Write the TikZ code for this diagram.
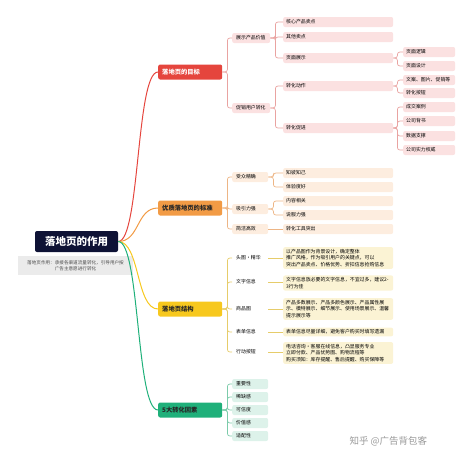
\documentclass[tikz,border=0pt]{standalone}
\usepackage{fontspec}
\setmainfont{Noto Sans CJK SC}
\usetikzlibrary{positioning}
\definecolor{rootbg}{HTML}{0E1235}
\definecolor{notebg}{HTML}{EBEBEB}
\definecolor{cred}{HTML}{E5453D}
\definecolor{credfill}{HTML}{FBE1E1}
\definecolor{credline}{HTML}{E9A3A1}
\definecolor{corange}{HTML}{F29B45}
\definecolor{corangefill}{HTML}{FDEDDF}
\definecolor{corangeline}{HTML}{EDB585}
\definecolor{cyellow}{HTML}{F7C81E}
\definecolor{cyellowfill}{HTML}{FBF3D4}
\definecolor{cyellowline}{HTML}{E6CC6A}
\definecolor{cgreen}{HTML}{1FB07A}
\definecolor{cgreenfill}{HTML}{DDF2EA}
\definecolor{cgreenline}{HTML}{7CCBAA}
\newcommand\smallcn{\fontsize{4.9}{6.6}\selectfont}

\begin{document}
\begin{tikzpicture}[x=1pt,y=-1pt,
  rootbox/.style={fill=rootbg,text=white,rounded corners=2pt,minimum width=83,minimum height=21,font=\fontsize{10.5}{12}\selectfont\bfseries},
  notebox/.style={fill=notebg,text=black!70,minimum width=115,minimum height=19,align=center,font=\fontsize{4.6}{6}\selectfont},
  branch/.style={anchor=west,rounded corners=2pt,minimum width=64,minimum height=15,text width=56,inner xsep=4pt,font=\fontsize{6.3}{7}\selectfont\bfseries},
  ltwo/.style={anchor=west,rounded corners=2pt,minimum height=10,text width=28,inner xsep=4pt,inner ysep=1pt,font=\smallcn},
  lthree/.style={anchor=west,rounded corners=2pt,minimum height=10,text width=104,inner xsep=3pt,inner ysep=1pt,align=left,font=\smallcn},
  lfour/.style={anchor=west,rounded corners=2pt,minimum height=10,text width=46,inner xsep=3pt,inner ysep=1pt,font=\smallcn},
  ldesc/.style={anchor=west,rounded corners=2pt,text width=104,inner xsep=3pt,inner ysep=2pt,align=left,font=\smallcn},
  brk/.style={line width=0.7pt,rounded corners=2.5pt},
  stem/.style={line width=1pt}]

\useasboundingbox (0,0) rectangle (474,461);

% root
\node[rootbox] (root) at (76.5,241.5) {落地页的作用};
\node[notebox] (note) at (75.5,265.5) {落地页作用：承接各渠道流量转化，引导用户按\\广告主意愿进行转化};

% branches
\node[branch,fill=cred,text=white] (goal) at (158,72) {落地页的目标};
\node[branch,fill=corange,text=black!85] (std) at (158,208) {优质落地页的标准};
\node[branch,fill=cyellow,text=black!85] (struct) at (158,309) {落地页结构};
\node[branch,fill=cgreen,text=black!85] (five) at (158,410) {5大转化因素};

\draw[stem,cred] (root.east) .. controls (140,241.5) and (136,72) .. (goal.west);
\draw[stem,corange] (root.east) .. controls (140,241.5) and (136,208) .. (std.west);
\draw[stem,cyellow] (root.east) .. controls (140,241.5) and (136,309) .. (struct.west);
\draw[stem,cgreen] (root.east) .. controls (140,241.5) and (136,410) .. (five.west);

% red: goal
\node[ltwo,fill=credfill,text width=30] (show) at (232,38) {展示产品价值};
\node[ltwo,fill=credfill,text width=30] (promo) at (232,108) {促销用户转化};
\node[lthree,fill=credfill] (core) at (283,22) {核心产品卖点};
\node[lthree,fill=credfill] (other) at (283,37) {其他卖点};
\node[lthree,fill=credfill] (page) at (283,58) {页面展示};
\node[lthree,fill=credfill] (act) at (283,86) {转化动作};
\node[lthree,fill=credfill] (boost) at (283,128) {转化促进};
\node[lfour,fill=credfill] (logic) at (403,52) {页面逻辑};
\node[lfour,fill=credfill] (design) at (403,66) {页面设计};
\node[lfour,fill=credfill] (copy) at (403,80) {文案、图片、促销等};
\node[lfour,fill=credfill] (button) at (403,93) {转化按钮};
\node[lfour,fill=credfill] (case) at (403,107) {成交案例};
\node[lfour,fill=credfill] (endorse) at (403,121) {公司背书};
\node[lfour,fill=credfill] (data) at (403,136) {数据支撑};
\node[lfour,fill=credfill] (power) at (403,150) {公司实力权威};

\foreach \c in {show,promo}
  \draw[brk,credline] (goal.east) -- ++(5,0) |- (\c.west);
\foreach \c in {core,other,page}
  \draw[brk,credline] (show.east) -- ++(5,0) |- (\c.west);
\foreach \c in {act,boost}
  \draw[brk,credline] (promo.east) -- ++(5,0) |- (\c.west);
\foreach \c in {logic,design}
  \draw[brk,credline] (page.east) -- ++(4,0) |- (\c.west);
\foreach \c in {copy,button}
  \draw[brk,credline] (act.east) -- ++(4,0) |- (\c.west);
\foreach \c in {case,endorse,data,power}
  \draw[brk,credline] (boost.east) -- ++(4,0) |- (\c.west);

% orange: standard
\node[ltwo,fill=corangefill] (aud) at (232,177) {受众精确};
\node[ltwo,fill=corangefill] (attr) at (232,209) {吸引力强};
\node[ltwo,fill=corangefill] (simple) at (232,229) {简洁高效};
\node[lthree,fill=corangefill] (know) at (283,173) {知彼知己};
\node[lthree,fill=corangefill] (exp) at (283,187) {体验度好};
\node[lthree,fill=corangefill] (rel) at (283,201) {内容相关};
\node[lthree,fill=corangefill] (pers) at (283,215) {说服力强};
\node[lthree,fill=corangefill] (tool) at (283,229) {转化工具突出};

\foreach \c in {aud,attr,simple}
  \draw[brk,corangeline] (std.east) -- ++(5,0) |- (\c.west);
\foreach \c in {know,exp}
  \draw[brk,corangeline] (aud.east) -- ++(5,0) |- (\c.west);
\foreach \c in {rel,pers}
  \draw[brk,corangeline] (attr.east) -- ++(5,0) |- (\c.west);
\draw[brk,corangeline] (simple.east) -- (tool.west);

% yellow: structure
\node[ltwo] (head) at (232,258) {头图·精华};
\node[ltwo] (txt) at (232,282) {文字信息};
\node[ltwo] (pic) at (232,309) {商品图};
\node[ltwo] (form) at (232,332) {表单信息};
\node[ltwo] (btn) at (232,352) {行动按钮};
\node[ldesc,fill=cyellowfill] (headd) at (283,258) {以产品图作为背景设计，确定整体\\推广风格，作为吸引用户的关键点，可以\\突出产品卖点、价格优势、折扣信息抢购信息};
\node[ldesc,fill=cyellowfill] (txtd) at (283,283) {文字信息放必要的文字信息，不宜过多，建议2-\\3行为佳};
\node[ldesc,fill=cyellowfill] (picd) at (283,309) {产品多数展示、产品多颜色展示、产品属性展\\示、模特展示、细节展示、使用场景展示、温馨\\提示展示等};
\node[ldesc,fill=cyellowfill] (formd) at (283,332) {表单信息尽量详细，避免客户购买时填写遗漏};
\node[ldesc,fill=cyellowfill] (btnd) at (283,353) {电话咨询·客服在线信息，凸显服务专业\\立即付款、产品优势图、购物流程等\\购买须知：库存提醒、售后提醒、购买保障等};

\foreach \c in {head,txt,pic,form,btn}
  \draw[brk,cyellowline] (struct.east) -- ++(5,0) |- (\c.west);
\foreach \p/\d in {head/headd,txt/txtd,pic/picd,form/formd,btn/btnd}
  \draw[brk,cyellowline] (\p.east) -- (\d.west |- \p.east);

% green: factors
\node[ltwo,fill=cgreenfill] (imp) at (232,384) {重要性};
\node[ltwo,fill=cgreenfill] (scarce) at (232,397) {稀缺感};
\node[ltwo,fill=cgreenfill] (trust) at (232,410) {可信度};
\node[ltwo,fill=cgreenfill] (value) at (232,423) {价值感};
\node[ltwo,fill=cgreenfill] (fit) at (232,436) {适配性};

\foreach \c in {imp,scarce,trust,value,fit}
  \draw[brk,cgreenline] (five.east) -- ++(5,0) |- (\c.west);

% mark
\node[anchor=west,text=black!40,font=\fontsize{9.5}{10}\selectfont] (mark) at (346,441) {知乎 @广告背包客};

\end{tikzpicture}
\end{document}
